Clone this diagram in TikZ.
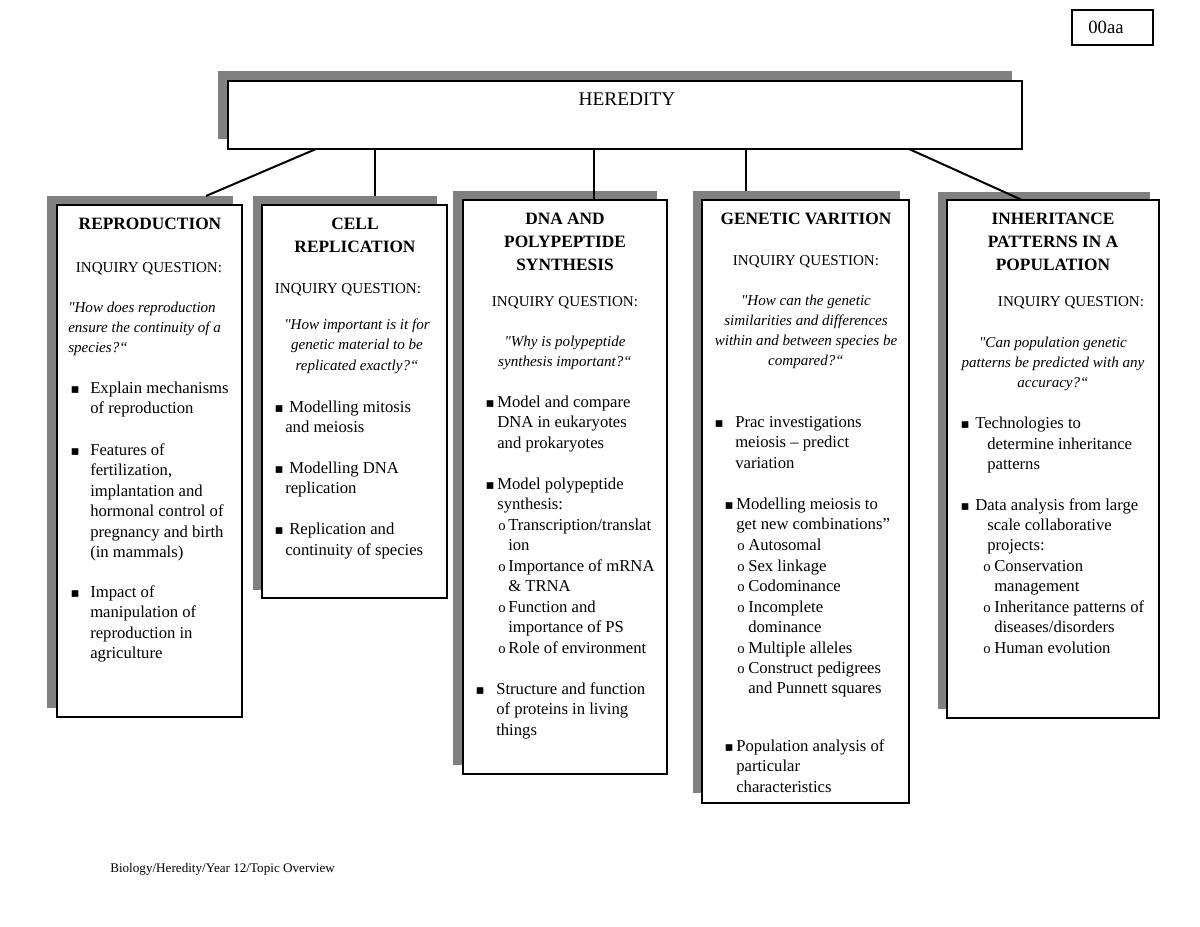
\documentclass[tikz,border=0pt]{standalone}
\usepackage{fontspec}
\setmainfont{Liberation Serif}[Ligatures=TeXOff]
\newfontfamily\symf{DejaVu Sans}
\usetikzlibrary{fit,calc}
\definecolor{shade}{RGB}{128,128,128}
\newcommand\blk[6][20.5]{\foreach \itm [count=\i] in {#6}{\node[#5] (#2\i) at ({#3},{#4+#1*(\i-1)}) {\itm};}}
\tikzset{
 shadowbox/.style={fill=shade,draw=none,inner sep=0pt,outer sep=0pt},
 mainbox/.style={draw=black,fill=white,line width=1.3pt,inner sep=0pt,outer sep=0pt},
 tagbox/.style={draw=black,line width=1.1pt,inner sep=0pt,outer sep=0pt},
 ttl/.style={font=\fontsize{13}{15}\selectfont\bfseries,anchor=mid,inner sep=0pt},
 inq/.style={font=\fontsize{11.3}{13}\selectfont,anchor=mid,inner sep=0pt},
 qc/.style={font=\fontsize{11.3}{13}\selectfont\itshape,anchor=mid,inner sep=0pt},
 ql/.style={qc,anchor=mid west},
 bt/.style={font=\fontsize{12.5}{15}\selectfont,anchor=mid west,inner sep=0pt},
 bul/.style={font=\fontsize{10}{12}\selectfont\symf,anchor=mid west,inner sep=0pt,xshift=-1.2pt},
 subo/.style={font=\fontsize{11}{12}\selectfont,anchor=mid west,inner sep=0pt},
 link/.style={line width=1pt},
 slink/.style={line width=1.5pt},
}
\begin{document}
\begin{tikzpicture}[x=0.75pt,y=-0.75pt]
\useasboundingbox (0,0) rectangle (1200,927);
% tag
\node[tagbox,fit={(1072,10)(1153,45)}] (tag) {};
% shadows
\node[shadowbox,fit={(218,71)(1012,139)}] (hs) {};
\node[shadowbox,fit={(47,196)(233,708)}] (s1) {};
\node[shadowbox,fit={(253,196)(437,590)}] (s2) {};
\node[shadowbox,fit={(453,191)(657,765)}] (s3) {};
\node[shadowbox,fit={(693,191)(900,793)}] (s4) {};
\node[shadowbox,fit={(938,192)(1150,709)}] (s5) {};
% boxes
\node[mainbox,fit={(228,81)(1022,149)}] (her) {};
\node[mainbox,fit={(57,205)(242,717)}] (b1) {};
\node[mainbox,fit={(262,205)(447,598)}] (b2) {};
\node[mainbox,fit={(463,200)(667,774)}] (b3) {};
\node[mainbox,fit={(702,200)(909,803)}] (b4) {};
\node[mainbox,fit={(947,200)(1159,718)}] (b5) {};
% connectors
\draw[slink] ($(her.south west)+(88,0)$) -- ($(s1.north west)+(159,0)$);
\draw[link] ($(her.south west)+(147,0)$) coordinate (c2) -- (c2 |- s2.north);
\draw[link] ($(her.south west)+(366,0)$) coordinate (c3) -- (c3 |- b3.north);
\draw[link] ($(her.south west)+(518,0)$) coordinate (c4) -- (c4 |- s4.north);
\draw[slink] ($(her.south west)+(681,0)$) -- ($(b5.north west)+(75,0)$);
\begin{scope}[yshift=-2.25pt]
\node[inq,font=\fontsize{14}{16}\selectfont] (tagt) at (1106,27) {00aa};
% heredity
\node[inq,font=\fontsize{14.5}{17}\selectfont] (hert) at (627,99) {HEREDITY};
% column 1
\node[ttl] (t1) at (150,223) {REPRODUCTION};
\node[inq] (i1) at (149,266) {INQUIRY QUESTION:};
\blk[20]{q1}{68}{306}{ql}{{"How does reproduction},{ensure the continuity of a},{species?“}}
\node[bul] (k11) at (72,387) {▪};
\blk{p11}{90}{387}{bt}{Explain mechanisms,of reproduction}
\node[bul] (k12) at (72,449) {▪};
\blk{p12}{90}{449}{bt}{Features of,{fertilization,},implantation and,hormonal control of,pregnancy and birth,{(in mammals)}}
\node[bul] (k13) at (72,591) {▪};
\blk{p13}{90}{591}{bt}{Impact of,manipulation of,reproduction in,agriculture}
% column 2
\blk[23]{t2}{355}{223}{ttl}{CELL,REPLICATION}
\node[inq] (i2) at (348,287) {INQUIRY QUESTION:};
\blk[20.5]{q2}{357}{323}{qc}{{"How important is it for},{genetic material to be},{replicated exactly?“}}
\node[bul] (k21) at (276,406) {▪};
\node[bt] (p211) at (289,406) {Modelling mitosis};
\node[bt] (p212) at (285,426) {and meiosis};
\node[bul] (k22) at (276,467) {▪};
\node[bt] (p221) at (289,467) {Modelling DNA};
\node[bt] (p222) at (285,487) {replication};
\node[bul] (k23) at (276,528) {▪};
\node[bt] (p231) at (289,528) {Replication and};
\node[bt] (p232) at (285,549) {continuity of species};
% column 3
\blk[23]{t3}{565}{218}{ttl}{DNA AND,POLYPEPTIDE,SYNTHESIS}
\node[inq] (i3) at (565,300) {INQUIRY QUESTION:};
\blk[20]{q3}{565}{340}{qc}{{"Why is polypeptide},{synthesis important?“}}
\node[bul] (k31) at (487,401) {▪};
\blk{p31}{497}{401}{bt}{Model and compare,DNA in eukaryotes,and prokaryotes}
\node[bul] (k32) at (487,483) {▪};
\blk{p32}{497}{483}{bt}{Model polypeptide,synthesis:}
\node[subo] (o31) at (498,524) {o};
\blk{s31}{508}{524}{bt}{Transcription/translat,ion}
\node[subo] (o32) at (498,565) {o};
\blk{s32}{508}{565}{bt}{Importance of mRNA,\& TRNA}
\node[subo] (o33) at (498,606) {o};
\blk{s33}{508}{606}{bt}{Function and,importance of PS}
\node[subo] (o34) at (498,647) {o};
\blk{s34}{508}{647}{bt}{Role of environment}
\node[bul] (k33) at (477,688) {▪};
\blk{p33}{496}{688}{bt}{Structure and function,of proteins in living,things}
% column 4
\node[ttl] (t4) at (806,218) {GENETIC VARITION};
\node[inq] (i4) at (806,259) {INQUIRY QUESTION:};
\blk[20]{q4}{806}{299}{qc}{{"How can the genetic},similarities and differences,within and between species be,{compared?“}}
\node[bul] (k41) at (716,421) {▪};
\blk{p41}{735}{421}{bt}{Prac investigations,meiosis – predict,variation}
\node[bul] (k42) at (726,503) {▪};
\blk{p42}{736}{503}{bt}{Modelling meiosis to,get new combinations”}
\node[subo] (o41) at (737,544) {o};
\blk{s41}{748}{544}{bt}{Autosomal}
\node[subo] (o42) at (737,565) {o};
\blk{s42}{748}{565}{bt}{Sex linkage}
\node[subo] (o43) at (737,585) {o};
\blk{s43}{748}{585}{bt}{Codominance}
\node[subo] (o44) at (737,606) {o};
\blk{s44}{748}{606}{bt}{Incomplete,dominance}
\node[subo] (o45) at (737,647) {o};
\blk{s45}{748}{647}{bt}{Multiple alleles}
\node[subo] (o46) at (737,667) {o};
\blk{s46}{748}{667}{bt}{Construct pedigrees,and Punnett squares}
\node[bul] (k43) at (726,745) {▪};
\blk{p43}{736}{745}{bt}{Population analysis of,particular,characteristics}
% column 5
\blk[23]{t5}{1053}{218}{ttl}{INHERITANCE,PATTERNS IN A,POPULATION}
\node[inq] (i5) at (1071,300) {INQUIRY QUESTION:};
\blk[20]{q5}{1053}{341}{qc}{{"Can population genetic},patterns be predicted with any,{accuracy?“}}
\node[bul] (k51) at (962,422) {▪};
\node[bt] (p511) at (975,422) {Technologies to};
\blk{p51c}{987}{443}{bt}{determine inheritance,patterns}
\node[bul] (k52) at (962,504) {▪};
\node[bt] (p521) at (975,504) {Data analysis from large};
\blk{p52c}{987}{524}{bt}{scale collaborative,projects:}
\node[subo] (o51) at (983,565) {o};
\blk{s51}{994}{565}{bt}{Conservation,management}
\node[subo] (o52) at (983,606) {o};
\blk{s52}{994}{606}{bt}{Inheritance patterns of,diseases/disorders}
\node[subo] (o53) at (983,647) {o};
\blk{s53}{994}{647}{bt}{Human evolution}
% footer
\node[bt,font=\fontsize{9.85}{11}\selectfont] (ft) at (110,866) {Biology/Heredity/Year 12/Topic Overview};
\end{scope}
\end{tikzpicture}
\end{document}
